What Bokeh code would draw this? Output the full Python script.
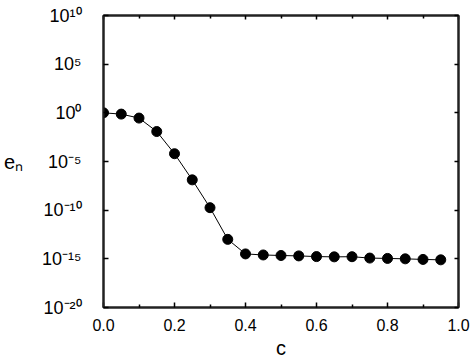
from bokeh.plotting import figure
from bokeh.models import (FixedTicker, LinearAxis, LogAxis, CustomJSTickFormatter)
from bokeh.embed import file_html
from bokeh.resources import INLINE

# data
c = [0.0, 0.05, 0.10, 0.15, 0.20, 0.25, 0.30, 0.35, 0.40, 0.45,
     0.50, 0.55, 0.60, 0.65, 0.70, 0.75, 0.80, 0.85, 0.90, 0.95]
e_n = [1.0, 0.74, 0.29, 1.2e-2, 6.3e-5, 1.3e-7, 1.8e-10, 1.0e-13, 3.2e-15, 2.5e-15,
       2.2e-15, 2.0e-15, 1.7e-15, 1.6e-15, 1.65e-15, 1.2e-15, 1.1e-15, 1.0e-15, 8.7e-16, 7.9e-16]

x_ticks = [0.0, 0.2, 0.4, 0.6, 0.8, 1.0]
x_labels = ["0.0", "0.2", "0.4", "0.6", "0.8", "1.0"]
x_minor = [0.1, 0.3, 0.5, 0.7, 0.9]
y_ticks = [1e-20, 1e-15, 1e-10, 1e-5, 1e0, 1e5, 1e10]
y_labels = ["10⁻²⁰", "10⁻¹⁵", "10⁻¹⁰", "10⁻⁵", "10⁰", "10⁵", "10¹⁰"]

FONT = "Liberation Sans"

p = figure(width=474, height=361, y_axis_type="log",
           x_range=(0, 1), y_range=(1e-20, 1e10),
           output_backend="svg", toolbar_location=None,
           min_border_left=102, min_border_right=16,
           min_border_top=15, min_border_bottom=51,
           background_fill_color="white", border_fill_color="white")
p.outline_line_color = "#222222"
p.outline_line_width = 2
p.xgrid.visible = False
p.ygrid.visible = False

p.line(c, e_n, line_color="black", line_width=1)
p.scatter(c, e_n, size=10, fill_color="black", line_color="black")

def label_fmt(tv, lab, log):
    code = """
    for (let i = 0; i < tv.length; i++) {
        const a = lg ? Math.log10(tv[i]) : tv[i];
        const b = lg ? Math.log10(tick) : tick;
        if (Math.abs(a - b) < 1e-6) return lab[i];
    }
    return '';
    """
    return CustomJSTickFormatter(args=dict(tv=tv, lab=lab, lg=log), code=code)

def style(ax, labels=True):
    ax.axis_line_color = "#222222"
    ax.axis_line_width = 2
    ax.major_tick_line_color = "black"
    ax.minor_tick_line_color = "black"
    ax.major_tick_line_width = 1.5
    ax.minor_tick_line_width = 1.5
    ax.major_tick_in = 5
    ax.major_tick_out = 0
    ax.minor_tick_in = 3
    ax.minor_tick_out = 0
    ax.major_label_text_font = FONT
    ax.major_label_text_color = "black"
    ax.major_label_text_font_size = "16px"
    if not labels:
        ax.major_tick_in = 4
        ax.formatter = CustomJSTickFormatter(code="return ''")
        ax.major_label_text_font_size = "1px"
        ax.major_label_standoff = 0

xb = p.xaxis[0]
xb.ticker = FixedTicker(ticks=x_ticks, minor_ticks=x_minor)
xb.formatter = label_fmt(x_ticks, x_labels, False)
style(xb)
xb.major_label_standoff = 11
xb.axis_label = "c"
xb.axis_label_text_font = FONT
xb.axis_label_text_font_style = "normal"
xb.axis_label_text_font_size = "20px"
xb.axis_label_text_color = "black"
xb.axis_label_standoff = 3

yl = p.yaxis[0]
yl.ticker = FixedTicker(ticks=y_ticks, minor_ticks=[])
yl.formatter = label_fmt(y_ticks, y_labels, True)
style(yl)
yl.major_label_standoff = 22
yl.major_label_text_font_size = "18px"
yl.axis_label = "eₙ"
yl.axis_label_orientation = "horizontal"
yl.axis_label_text_font = FONT
yl.axis_label_text_font_style = "normal"
yl.axis_label_text_font_size = "20px"
yl.axis_label_text_color = "black"
yl.axis_label_standoff = 16

xt = LinearAxis(ticker=FixedTicker(ticks=x_ticks, minor_ticks=x_minor))
style(xt, labels=False)
p.add_layout(xt, "above")

yr = LogAxis(ticker=FixedTicker(ticks=y_ticks, minor_ticks=[]))
style(yr, labels=False)
p.add_layout(yr, "right")

open("out.html", "w").write(file_html(p, INLINE))
